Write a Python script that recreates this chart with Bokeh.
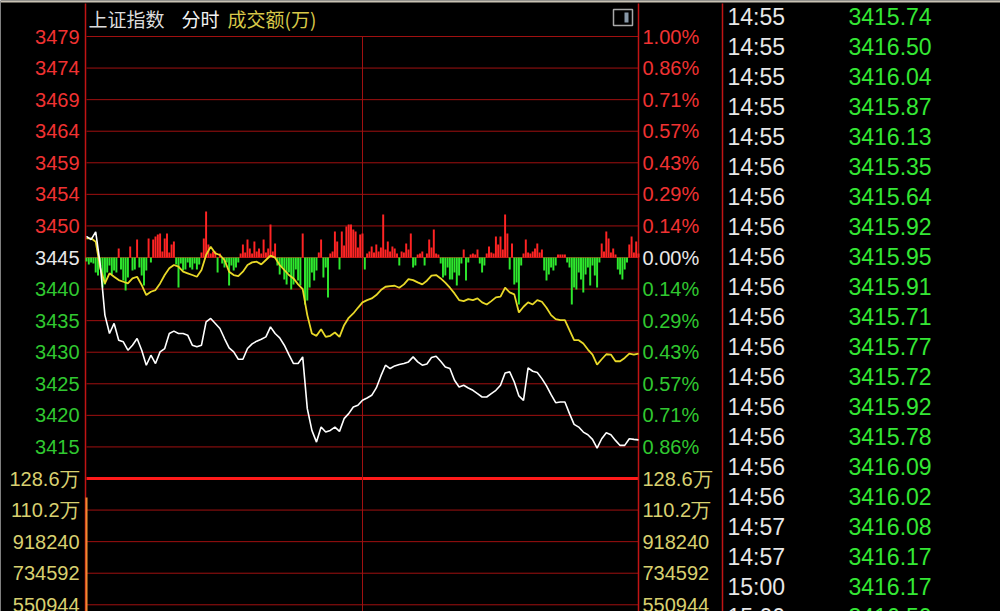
from bokeh.plotting import figure
from bokeh.models import Range1d, ColumnDataSource
from bokeh.embed import file_html
from bokeh.resources import INLINE
from bokeh.core.properties import value

# ---------------- data ----------------
PREV_CLOSE = 3444.6
N_MIN = 240
CENTER_MIN = 120

LEFT_PRICE_LABELS = ["3479", "3474", "3469", "3464", "3459", "3454", "3450",
                     "3445", "3440", "3435", "3430", "3425", "3420", "3415"]
RIGHT_PCT_LABELS = ["1.00%", "0.86%", "0.71%", "0.57%", "0.43%", "0.29%", "0.14%",
                    "0.00%", "0.14%", "0.29%", "0.43%", "0.57%", "0.71%", "0.86%"]
GRID_STEPS = [7, 6, 5, 4, 3, 2, 1, 0, -1, -2, -3, -4, -5, -6]   # in 1/7 % steps

VOL_TICKS = [1285536, 1101888, 918240, 734592, 550944]
VOL_LABELS = ["128.6万", "110.2万", "918240", "734592", "550944"]
VOL_MIN = [0]
VOLUMES = [1175000]

MINUTES = list(range(0, 241, 2))
PRICE = [
    3447.9, 3447.4, 3448.6, 3443.43, 3435.62, 3432.75, 3434.32, 3431.71, 3431.45, 3430.15,
    3430.93, 3431.97, 3430.15, 3427.81, 3429.37, 3428.07, 3429.89, 3430.41, 3432.75, 3433.12,
    3432.75, 3432.75, 3432.49, 3430.93, 3430.67, 3430.93, 3434.58, 3435.10, 3434.32, 3433.53,
    3431.97, 3430.51, 3429.89, 3428.74, 3428.74, 3430.41, 3431.14, 3431.56, 3431.87, 3432.23,
    3433.79, 3432.75, 3432.08, 3430.93, 3429.47, 3428.07, 3428.07, 3429.11, 3421.04, 3417.65,
    3415.83, 3418.17, 3417.39, 3417.65, 3418.17, 3417.50, 3419.48, 3420.26, 3421.30, 3421.56,
    3422.34, 3422.70, 3423.12, 3424.27, 3426.14, 3427.81, 3427.29, 3427.70, 3427.91, 3428.07,
    3428.33, 3429.11, 3428.33, 3427.81, 3428.01, 3429.00, 3429.21, 3428.43, 3427.55, 3427.29,
    3425.46, 3424.42, 3424.68, 3424.27, 3423.90, 3423.38, 3422.86, 3422.86, 3423.38, 3423.90,
    3424.68, 3426.61, 3426.77, 3425.20, 3423.02, 3422.34, 3427.39, 3426.87, 3426.66, 3425.72,
    3424.58, 3423.22, 3421.97, 3422.08, 3422.08, 3420.26, 3418.59, 3418.17, 3417.39, 3416.98,
    3416.25, 3414.89, 3416.35, 3417.29, 3416.98, 3416.09, 3415.31, 3415.31, 3416.35, 3416.25,
    3416.17,
]
LEAD = [
    3447.59, 3447.59, 3447.07, 3442.91, 3440.56, 3442.13, 3441.60, 3441.08, 3440.82, 3440.56,
    3441.34, 3441.60, 3440.30, 3438.74, 3439.26, 3439.52, 3440.56, 3441.87, 3442.91, 3443.43,
    3443.17, 3442.39, 3442.13, 3441.87, 3441.60, 3442.65, 3444.99, 3446.29, 3445.25, 3444.99,
    3444.21, 3442.39, 3441.87, 3441.71, 3442.39, 3443.43, 3443.84, 3443.95, 3443.53, 3444.21,
    3444.89, 3444.57, 3443.43, 3442.65, 3441.87, 3441.34, 3440.41, 3439.68, 3435.62, 3432.75,
    3432.39, 3433.43, 3432.23, 3432.39, 3432.91, 3432.23, 3434.05, 3435.20, 3435.88, 3436.76,
    3437.60, 3437.96, 3438.22, 3438.74, 3439.52, 3440.04, 3440.15, 3440.20, 3439.89, 3440.41,
    3441.24, 3441.08, 3440.72, 3440.41, 3440.98, 3441.76, 3441.87, 3441.34, 3440.67, 3439.89,
    3439.00, 3437.96, 3437.80, 3438.12, 3437.96, 3438.22, 3437.60, 3437.28, 3437.80, 3438.38,
    3438.50, 3439.89, 3439.16, 3438.85, 3436.03, 3436.92, 3437.60, 3437.28, 3437.96, 3437.70,
    3436.76, 3435.62, 3434.99, 3434.84, 3434.84, 3433.27, 3431.71, 3431.71, 3431.19, 3430.25,
    3429.47, 3427.91, 3428.74, 3429.52, 3429.47, 3428.43, 3428.43, 3428.95, 3429.63, 3429.47,
    3429.63,
]
STRENGTH = [
    -4, -7, -5, -6, -15, -18, -9, -30, -27, -15,
    -8, -17, -13, -15, 9, -12, -23, -33, -20, 11,
    -13, -12, 18, -10, -18, -28, -13, 19, -5, 18,
    21, 23, 24, 6, 19, 24, 5, 13, 16, -7,
    -30, -6, -13, -12, -5, -10, -12, -6, -12, -7,
    5, 19, 46, 13, 4, 6, 6, -15, 4, -6,
    -10, -5, -28, -8, -13, -10, -5, 4, 13, 5,
    18, 9, 4, 16, 6, 9, 4, 18, 5, 9,
    33, 6, 14, -8, -17, -10, -22, -27, -15, -32,
    -27, -12, -23, -28, 24, -47, -43, -30, -15, -23,
    -13, 5, 18, -20, -10, -40, 4, 6, 26, 16,
    -12, 26, 12, 31, 33, 33, 28, 26, 10, 23,
    24, -12, 4, 6, 11, 5, 13, 6, 10, 43,
    8, 16, 6, 11, 9, 4, -8, 6, 5, 14,
    8, 24, -10, -8, 3, 4, 6, -8, 4, 18,
    10, 28, 4, 3, -6, -20, -18, -10, -22, -22,
    -15, -28, -18, -6, 8, -23, -5, 3, 4, 3,
    8, -6, -15, -8, 4, 11, 5, 4, 21, 13,
    21, 8, 43, 24, -12, 14, -27, -25, -47, -8,
    4, 18, 5, 4, 6, 9, 14, 5, 8, -13,
    -23, -17, -10, -13, -8, 3, 3, 3, 3, -5,
    -10, -47, -30, -32, -15, -22, -35, -17, -10, -28,
    -8, -18, -30, -5, 14, 6, 26, 19, 5, 9,
    3, -12, -17, -22, -12, -5, 13, 21, 5, 16,
    4,
]

TICK_TIMES = ["14:55", "14:55", "14:55", "14:55", "14:55", "14:56", "14:56", "14:56",
              "14:56", "14:56", "14:56", "14:56", "14:56", "14:56", "14:56", "14:56",
              "14:56", "14:57", "14:57", "15:00", "15:00"]
TICK_PRICES = ["3415.74", "3416.50", "3416.04", "3415.87", "3416.13", "3415.35", "3415.64",
               "3415.92", "3415.95", "3415.91", "3415.71", "3415.77", "3415.72", "3415.92",
               "3415.78", "3416.09", "3416.02", "3416.08", "3416.17", "3416.17", "3416.50"]

TITLE_PARTS = ["上证指数", "分时", "成交额(万)"]

# ---------------- layout ----------------
W, H = 1000, 611
X0_PX, X1_PX = 86, 638          # minute 0 / minute 240
TOP_PX, MID_PX = 36, 478        # +1.00% line / lower border of price panel
STEP_PX = (MID_PX - TOP_PX) / 14
ZERO_PX = TOP_PX + 7 * STEP_PX
ROW0_PX, ROW_PX = 16, 30

ppm = (X1_PX - X0_PX) / N_MIN
price_per_px = PREV_CLOSE * (1.0 / 7) / 100 / STEP_PX
vol_per_px = (VOL_TICKS[0] - VOL_TICKS[1]) / STEP_PX

p = figure(width=W, height=H, output_backend="svg", toolbar_location=None,
           x_range=Range1d(-X0_PX / ppm, N_MIN + (W - X1_PX) / ppm),
           y_range=Range1d(PREV_CLOSE - (H - ZERO_PX) * price_per_px,
                           PREV_CLOSE + ZERO_PX * price_per_px),
           x_axis_location=None, y_axis_location=None,
           min_border=0, background_fill_color="black", border_fill_color="black",
           outline_line_color=None)
p.grid.visible = False
p.extra_x_ranges = {"px": Range1d(0, W)}
p.extra_y_ranges = {
    "px": Range1d(H, 0),
    "vol": Range1d(VOL_TICKS[0] - (H - MID_PX) * vol_per_px, VOL_TICKS[0] + MID_PX * vol_per_px),
    "str": Range1d(-(H - ZERO_PX), ZERO_PX),
    "row": Range1d((H - ROW0_PX) / ROW_PX, -ROW0_PX / ROW_PX),
}

GRID_C = "#a01010"
BORDER_C = "#c01414"
LABEL_FONT = value("Liberation Sans")

def lvl(k):
    return PREV_CLOSE * (1 + k / 700.0)

# price grid lines
grid_y = [lvl(k) for k in GRID_STEPS]
p.segment(x0=[0] * len(grid_y), x1=[N_MIN] * len(grid_y), y0=grid_y, y1=grid_y,
          line_color=GRID_C, line_width=1)
# volume grid lines
p.segment(x0=[0] * 4, x1=[N_MIN] * 4, y0=VOL_TICKS[1:], y1=VOL_TICKS[1:],
          line_color=GRID_C, line_width=1, y_range_name="vol")
# thick separator between panels
p.segment(x0=[0], x1=[N_MIN], y0=[VOL_TICKS[0]], y1=[VOL_TICKS[0]],
          line_color="#ff1a1a", line_width=3, y_range_name="vol")
# midday line
p.segment(x0=[CENTER_MIN], x1=[CENTER_MIN], y0=[lvl(7)], y1=[PREV_CLOSE - (H - ZERO_PX) * price_per_px],
          line_color=GRID_C, line_width=1)
# frame borders
p.segment(x0=[X0_PX - 1, X1_PX, 722], x1=[X0_PX - 1, X1_PX, 722], y0=[3, 3, 3], y1=[H, H, H],
          line_color=BORDER_C, line_width=1.5, x_range_name="px", y_range_name="px")
p.segment(x0=[0], x1=[W], y0=[1], y1=[1], line_color="#c8c2b4", line_width=2,
          x_range_name="px", y_range_name="px")

# strength bars
str_src = ColumnDataSource(dict(
    x=list(range(len(STRENGTH))), top=STRENGTH,
    color=["#ff2424" if v > 0 else "#2ee82e" for v in STRENGTH]))
p.vbar(x="x", top="top", bottom=0, width=0.85, source=str_src, fill_color="color",
       line_color=None, y_range_name="str")

# volume bar
p.vbar(x=VOL_MIN, top=VOLUMES, bottom=0, width=0.9, fill_color="#f08a30", line_color=None,
       y_range_name="vol")

# lines
p.line(MINUTES, LEAD, line_color="#e8d828", line_width=1.8)
p.line(MINUTES, PRICE, line_color="#ffffff", line_width=1.6)

# price labels
lab_colors = ["#f03232" if k > 0 else ("#e8e8e8" if k == 0 else "#30c830") for k in GRID_STEPS]
src_l = ColumnDataSource(dict(x=[79] * len(grid_y), y=grid_y, t=LEFT_PRICE_LABELS, c=lab_colors))
p.text(x="x", y="y", text="t", text_color="c", source=src_l, x_range_name="px",
       text_font=LABEL_FONT, text_font_size="20px", text_align="right", text_baseline="middle")
src_r = ColumnDataSource(dict(x=[642] * len(grid_y), y=grid_y, t=RIGHT_PCT_LABELS, c=lab_colors))
p.text(x="x", y="y", text="t", text_color="c", source=src_r, x_range_name="px",
       text_font=LABEL_FONT, text_font_size="20px", text_align="left", text_baseline="middle")

# volume labels
VOL_C = "#d8d070"
p.text(x=[79] * len(VOL_TICKS), y=VOL_TICKS, text=VOL_LABELS, x_range_name="px", y_range_name="vol",
       text_color=VOL_C, text_font=LABEL_FONT, text_font_size="20px", text_align="right",
       text_baseline="middle")
p.text(x=[642] * len(VOL_TICKS), y=VOL_TICKS, text=VOL_LABELS, x_range_name="px", y_range_name="vol",
       text_color=VOL_C, text_font=LABEL_FONT, text_font_size="20px", text_align="left",
       text_baseline="middle")

# title
p.text(x=[88, 181, 227], y=[18, 18, 18], text=TITLE_PARTS, x_range_name="px", y_range_name="px",
       text_color=["#dcdcdc", "#f2f2f2", "#d8c848"], text_font=value("Noto Sans CJK SC"),
       text_font_size="19px", text_align="left", text_baseline="middle")

# small icon
p.quad(left=[613], right=[632], top=[9], bottom=[25], x_range_name="px", y_range_name="px",
       fill_color=None, line_color="#a8a8a8", line_width=1.5)
p.quad(left=[624], right=[628], top=[12], bottom=[22], x_range_name="px", y_range_name="px",
       fill_color="#8898a8", line_color=None)

# tick table
rows = list(range(len(TICK_TIMES)))
p.text(x=[727] * len(rows), y=rows, text=TICK_TIMES, x_range_name="px", y_range_name="row",
       text_color="#e8e8e8", text_font=LABEL_FONT, text_font_size="23px",
       text_align="left", text_baseline="middle")
p.text(x=[848] * len(rows), y=rows, text=TICK_PRICES, x_range_name="px", y_range_name="row",
       text_color="#34e834", text_font=LABEL_FONT, text_font_size="23px",
       text_align="left", text_baseline="middle")

open("out.html", "w").write(file_html(p, INLINE))
